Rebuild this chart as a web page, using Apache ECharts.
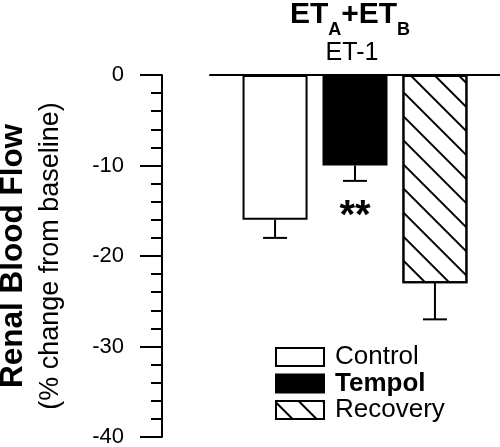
<!DOCTYPE html>
<html>
<head>
<meta charset="utf-8">
<script src="https://cdn.jsdelivr.net/npm/echarts@6/dist/echarts.min.js"></script>
<style>
  html, body { margin: 0; padding: 0; background: #fff; }
  #chart { width: 500px; height: 447px; }
</style>
</head>
<body>
<div id="chart"></div>
<script>
// values
var groups = ['Control', 'Tempol', 'Recovery'];
var means = [-16, -10, -23];
var errs = [2, 1.7, 4];
var sigs = ['', '**', ''];
var yTicks = [0, -10, -20, -30, -40];

var FONT = "'Liberation Sans', Arial, sans-serif";

var chart = echarts.init(document.getElementById('chart'));

var barStyles = [
  { color: '#fff', borderColor: '#000', borderWidth: 2 },
  { color: '#000', borderColor: '#000', borderWidth: 2 },
  {
    color: '#fff', borderColor: '#000', borderWidth: 2,
    decal: {
      symbol: 'rect',
      symbolSize: 1,
      color: '#000',
      dashArrayX: [1, 0],
      dashArrayY: [2, 15],
      rotation: Math.PI / 4
    }
  }
];

var series = groups.map(function (g, i) {
  return {
    name: g,
    type: 'bar',
    barWidth: 65,
    barGap: '23%',
    itemStyle: barStyles[i],
    data: [means[i]],
    silent: true
  };
});

// error bars (downward only) + significance marks
series.push({
  type: 'custom',
  silent: true,
  z: 5,
  data: means.map(function (m, i) { return [0, m, errs[i], i]; }),
  renderItem: function (params, api) {
    var idx = api.value(3);
    var layout = api.barLayout({ barWidth: 65, barGap: '23%', count: groups.length });
    var top = api.coord([api.value(0), api.value(1)]);
    var end = api.coord([api.value(0), api.value(1) - api.value(2)]);
    var x = top[0] + layout[idx].offsetCenter;
    var st = { stroke: '#000', lineWidth: 2 };
    var children = [
      { type: 'line', shape: { x1: x, y1: top[1], x2: x, y2: end[1] }, style: st },
      { type: 'line', shape: { x1: x - 12, y1: end[1], x2: x + 12, y2: end[1] }, style: st }
    ];
    if (sigs[idx]) {
      children.push({
        type: 'text',
        x: x, y: end[1] + 36,
        style: {
          text: sigs[idx], fill: '#000', font: 'bold 40px ' + FONT,
          textAlign: 'center', textVerticalAlign: 'middle'
        }
      });
    }
    return { type: 'group', children: children };
  }
});

var option = {
  animation: false,
  backgroundColor: '#fff',
  textStyle: { fontFamily: FONT },
  grid: { left: 210, right: 0, top: 75, bottom: 10, outerBoundsMode: 'none', containLabel: false },
  graphic: [
    {
      type: 'text', x: 350, y: -10,
      style: {
        text: '{m|ET}{s|A}{m|+ET}{s|B}',
        textAlign: 'center', textVerticalAlign: 'top',
        rich: {
          m: { fontSize: 30, fontWeight: 'bold', fontFamily: FONT, color: '#000' },
          s: { fontSize: 18, fontWeight: 'bold', fontFamily: FONT, color: '#000', padding: [31, 0, 0, 0] }
        }
      }
    },
    {
      type: 'text', x: 352, y: 53,
      style: {
        text: 'ET-1', fill: '#000', font: '25px ' + FONT,
        textAlign: 'center', textVerticalAlign: 'middle'
      }
    }
  ],
  legend: {
    orient: 'vertical',
    left: 275, top: 344,
    padding: 0,
    itemWidth: 48, itemHeight: 18, itemGap: 0.5,
    icon: 'rect',
    selectedMode: false,
    textStyle: { fontSize: 26, color: '#000', fontFamily: FONT, padding: [0, 0, 0, 6] },
    data: [
      { name: 'Control' },
      { name: 'Tempol', textStyle: { fontWeight: 'bold' } },
      { name: 'Recovery' }
    ]
  },
  xAxis: {
    type: 'category',
    data: ['ET-1'],
    axisLine: { onZero: true, lineStyle: { color: '#000', width: 2 } },
    axisTick: { show: false },
    axisLabel: { show: false }
  },
  yAxis: {
    type: 'value',
    min: yTicks[yTicks.length - 1], max: yTicks[0], interval: 10,
    offset: 48,
    name: '{a|Renal Blood Flow}\n{b|(% change from baseline)}',
    nameLocation: 'middle',
    nameRotate: 90,
    nameGap: 92,
    nameTextStyle: {
      rich: {
        a: { fontSize: 31.5, fontWeight: 'bold', lineHeight: 38, color: '#000', fontFamily: FONT },
        b: { fontSize: 27, lineHeight: 38, color: '#000', fontFamily: FONT }
      }
    },
    axisLine: { show: true, lineStyle: { color: '#000', width: 2 } },
    axisTick: { show: true, length: 22, lineStyle: { color: '#000', width: 2 } },
    minorTick: { show: true, splitNumber: 5, length: 11, lineStyle: { color: '#000', width: 2 } },
    splitLine: { show: false },
    axisLabel: { fontSize: 22, color: '#000', margin: 38, fontFamily: FONT }
  },
  series: series
};

chart.setOption(option);
</script>
</body>
</html>
